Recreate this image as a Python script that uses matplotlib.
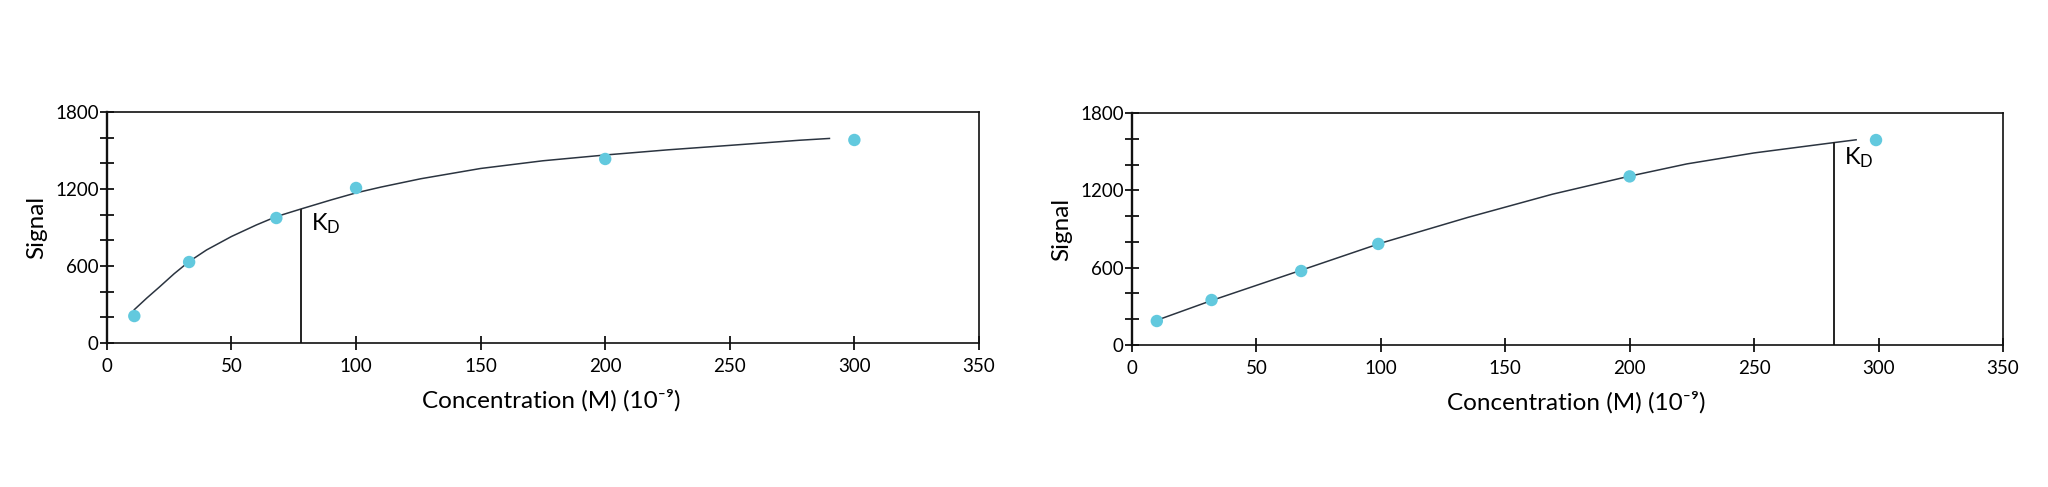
import matplotlib
matplotlib.use('Agg')
import matplotlib.pyplot as plt
from matplotlib.ticker import MultipleLocator

plt.rcParams['font.family'] = ['Lato', 'DejaVu Sans']
plt.rcParams['mathtext.default'] = 'regular'

# measured points (concentration in nM, signal)
left_x = [11, 33, 68, 100, 200, 300]
left_y = [210, 631, 974, 1208, 1434, 1582]
# fitted curve
left_curve_x = [11, 16, 21, 27, 33, 40, 50, 60, 68, 78, 90, 100, 110, 126,
                150, 175, 200, 225, 250, 278, 290]
left_curve_y = [260, 350, 435, 540, 635, 725, 830, 920, 985, 1045, 1115, 1170,
                1215, 1280, 1360, 1420, 1465, 1505, 1540, 1580, 1594]
left_kd_x = 78
left_kd_y = 1040

right_x = [10, 32, 68, 99, 200, 299]
right_y = [186, 349, 574, 784, 1308, 1590]
right_curve_x = [10, 32, 68, 100, 135, 169, 200, 223, 250, 282, 291]
right_curve_y = [192, 345, 580, 790, 990, 1170, 1310, 1405, 1490, 1570, 1592]
right_kd_x = 282
right_kd_y = 1567

x_ticks = [0, 50, 100, 150, 200, 250, 300, 350]
y_ticks = [0, 600, 1200, 1800]

DOT = '#62c9de'
LINE = '#2b3440'


def draw_panel(ax, px, py, cx, cy, kd_x, kd_y):
    ax.plot(cx, cy, color=LINE, lw=1.1, zorder=2)
    ax.scatter(px, py, s=80, color=DOT, edgecolors='none', zorder=3, clip_on=False)
    ax.plot([kd_x, kd_x], [0, kd_y], color='#222222', lw=1.4, zorder=2)
    ax.text(kd_x + 4, kd_y - 15, 'K$_D$', fontsize=17, va='top', ha='left')

    ax.set_xlim(0, 350)
    ax.set_ylim(0, 1800)
    ax.set_xticks(x_ticks)
    ax.set_yticks(y_ticks)
    ax.yaxis.set_minor_locator(MultipleLocator(200))
    ax.tick_params(axis='both', which='both', direction='inout', length=10,
                   width=1.3, color='#111111', labelsize=13.5)
    ax.tick_params(axis='y', pad=1)
    ax.tick_params(axis='x', pad=6)
    for side in ['top', 'right', 'bottom']:
        ax.spines[side].set_linewidth(1.2)
        ax.spines[side].set_color('#111111')
    ax.spines['left'].set_linewidth(1.7)
    ax.spines['left'].set_color('#111111')

    ax.set_ylabel('Signal', fontsize=17.5)
    ax.yaxis.set_label_coords(-0.068, 0.5)
    ax.set_xlabel('Concentration (M) (10⁻⁹)', fontsize=17.5)
    ax.xaxis.set_label_coords(0.51, -0.2)


fig = plt.figure(figsize=(20.48, 4.87), dpi=100)
ax1 = fig.add_axes([0.0522, 0.2957, 0.4258, 0.4743])
ax2 = fig.add_axes([0.5527, 0.2916, 0.4253, 0.4764])

draw_panel(ax1, left_x, left_y, left_curve_x, left_curve_y, left_kd_x, left_kd_y)
draw_panel(ax2, right_x, right_y, right_curve_x, right_curve_y, right_kd_x, right_kd_y)

fig.savefig('out.png', dpi=100)
